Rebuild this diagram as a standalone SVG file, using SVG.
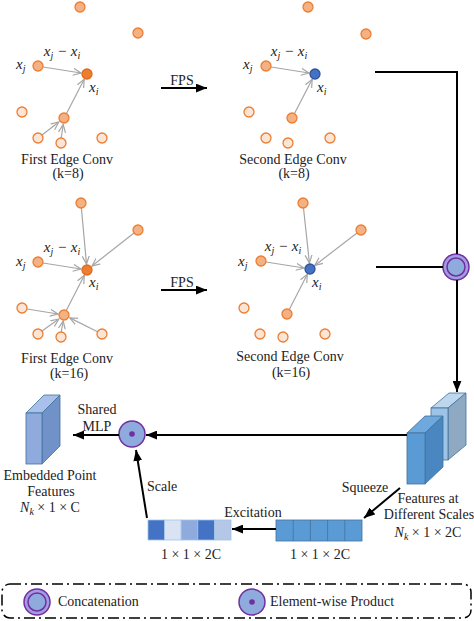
<svg xmlns="http://www.w3.org/2000/svg" width="474" height="621" viewBox="0 0 474 621" font-family="'Liberation Serif', 'Times New Roman', serif">
<style>
text{font-family:'Liberation Serif','Times New Roman',serif;font-size:14px;fill:#222}
.m{font-style:italic;font-size:15px}
.c{text-anchor:middle}
.pf{fill:#F4B183;stroke:#ED7D31;stroke-width:1.3}
.ph{fill:#FBE5D6;stroke:#ED7D31;stroke-width:1.3}
.pi{fill:#ED7D31;stroke:#E06A1B;stroke-width:1.3}
.pb{fill:#4472C4;stroke:#2F5597;stroke-width:1.3}
.g{stroke:#A6A6A6;stroke-width:1.2;fill:none;marker-end:url(#ga)}
.k{stroke:#000;stroke-width:2;fill:none}
.ka{stroke:#000;stroke-width:2;fill:none;marker-end:url(#ka)}
.cs{stroke:#41719C;stroke-width:0.8}
</style>
<defs>
<marker id="ga" markerUnits="userSpaceOnUse" markerWidth="10" markerHeight="10" refX="8" refY="4" orient="auto" viewBox="0 0 10 8"><path d="M0,0.5 L8,4 L0,7.5" fill="none" stroke="#A6A6A6" stroke-width="1.2"/></marker>
<marker id="ka" markerUnits="userSpaceOnUse" markerWidth="11" markerHeight="9" refX="10" refY="4" orient="auto" viewBox="0 0 10 8"><path d="M0,0 L10,4 L0,8 z" fill="#000"/></marker>
</defs>

<g id="edgeconv1-k8">
<line class="g" x1="43" y1="67" x2="81" y2="73"/>
<line class="g" x1="66.5" y1="113.5" x2="84.2" y2="79.3"/>
<line class="g" x1="42" y1="135" x2="58.8" y2="122"/>
<line class="g" x1="61.2" y1="138" x2="63.2" y2="124.5"/>
<circle class="pf" cx="80" cy="7" r="5"/>
<circle class="pf" cx="138" cy="33" r="5"/>
<circle class="pf" cx="38" cy="66" r="5"/>
<circle class="pi" cx="87" cy="74" r="5"/>
<circle class="ph" cx="22" cy="112" r="5"/>
<circle class="pf" cx="64" cy="118" r="5"/>
<circle class="ph" cx="38" cy="138" r="5"/>
<circle class="ph" cx="61" cy="143" r="5"/>
<circle class="ph" cx="102" cy="138" r="5"/>
<text class="m c" x="62" y="56">x<tspan dy="3" font-size="10">j</tspan><tspan dy="-3"> − x</tspan><tspan dy="3" font-size="10">i</tspan></text>
<text class="m" x="16" y="69">x<tspan dy="3" font-size="10">j</tspan></text>
<text class="m" x="89" y="92">x<tspan dy="3" font-size="10">i</tspan></text>
<text class="c" x="67" y="164">First Edge Conv</text>
<text class="c" x="68" y="178">(k=8)</text>
</g>

<g id="edgeconv2-k8">
<line class="g" x1="271" y1="67" x2="309" y2="73"/>
<line class="g" x1="294.5" y1="113.5" x2="312.2" y2="79.3"/>
<circle class="pf" cx="308" cy="7" r="5"/>
<circle class="pf" cx="366" cy="34" r="5"/>
<circle class="pf" cx="266" cy="66" r="5"/>
<circle class="pb" cx="315" cy="74" r="5"/>
<circle class="ph" cx="249" cy="112" r="5"/>
<circle class="pf" cx="292" cy="118" r="5"/>
<circle class="ph" cx="266" cy="138" r="5"/>
<circle class="ph" cx="288" cy="143" r="5"/>
<circle class="ph" cx="330" cy="138" r="5"/>
<text class="m c" x="289" y="56">x<tspan dy="3" font-size="10">j</tspan><tspan dy="-3"> − x</tspan><tspan dy="3" font-size="10">i</tspan></text>
<text class="m" x="243" y="69">x<tspan dy="3" font-size="10">j</tspan></text>
<text class="m" x="317" y="92">x<tspan dy="3" font-size="10">i</tspan></text>
<text class="c" x="293" y="164">Second Edge Conv</text>
<text class="c" x="294" y="178">(k=8)</text>
</g>

<g id="edgeconv1-k16">
<line class="g" x1="81.4" y1="208" x2="86.5" y2="264"/>
<line class="g" x1="134" y1="233" x2="92" y2="266"/>
<line class="g" x1="43" y1="263" x2="81" y2="269"/>
<line class="g" x1="66.3" y1="310.5" x2="84.3" y2="275.3"/>
<line class="g" x1="27" y1="309" x2="58" y2="314"/>
<line class="g" x1="42" y1="331" x2="58.8" y2="319"/>
<line class="g" x1="61.2" y1="332" x2="63.2" y2="321"/>
<line class="g" x1="97.5" y1="331.8" x2="69.8" y2="317.9"/>
<circle class="pf" cx="81" cy="203" r="5"/>
<circle class="pf" cx="138" cy="230" r="5"/>
<circle class="pf" cx="38" cy="262" r="5"/>
<circle class="pi" cx="87" cy="270" r="5"/>
<circle class="ph" cx="22" cy="308" r="5"/>
<circle class="pf" cx="64" cy="315" r="5"/>
<circle class="ph" cx="38" cy="334" r="5"/>
<circle class="ph" cx="61" cy="337" r="5"/>
<circle class="ph" cx="102" cy="334" r="5"/>
<text class="m c" x="62" y="252">x<tspan dy="3" font-size="10">j</tspan><tspan dy="-3"> − x</tspan><tspan dy="3" font-size="10">i</tspan></text>
<text class="m" x="16" y="266">x<tspan dy="3" font-size="10">j</tspan></text>
<text class="m" x="89" y="287">x<tspan dy="3" font-size="10">i</tspan></text>
<text class="c" x="67" y="363">First Edge Conv</text>
<text class="c" x="69" y="378">(k=16)</text>
</g>

<g id="edgeconv2-k16">
<line class="g" x1="303.5" y1="208" x2="309.4" y2="263"/>
<line class="g" x1="357" y1="233" x2="314.8" y2="265.4"/>
<line class="g" x1="266" y1="262" x2="304" y2="268"/>
<line class="g" x1="289.3" y1="309.5" x2="307.3" y2="274.3"/>
<circle class="pf" cx="303" cy="203" r="5"/>
<circle class="pf" cx="361" cy="230" r="5"/>
<circle class="pf" cx="261" cy="261" r="5"/>
<circle class="pb" cx="310" cy="269" r="5"/>
<circle class="ph" cx="244" cy="308" r="5"/>
<circle class="pf" cx="287" cy="314" r="5"/>
<circle class="ph" cx="260" cy="334" r="5"/>
<circle class="ph" cx="283" cy="337" r="5"/>
<circle class="ph" cx="325" cy="334" r="5"/>
<text class="m c" x="283" y="251">x<tspan dy="3" font-size="10">j</tspan><tspan dy="-3"> − x</tspan><tspan dy="3" font-size="10">i</tspan></text>
<text class="m" x="238" y="266">x<tspan dy="3" font-size="10">j</tspan></text>
<text class="m" x="312" y="287">x<tspan dy="3" font-size="10">i</tspan></text>
<text class="c" x="290" y="361">Second Edge Conv</text>
<text class="c" x="291" y="377">(k=16)</text>
</g>

<g id="concat-node">
<circle cx="456" cy="267" r="13" fill="#A39CE3" stroke="#7030A0" stroke-width="1.5"/>
<circle cx="456" cy="267" r="9" fill="#8FAADC" stroke="#7030A0" stroke-width="1.5"/>
</g>

<g id="multiscale-features">
<polygon class="cs" points="431,408 449,393 466,393 448,408" fill="#BDD7EE"/>
<polygon class="cs" points="448,408 466,393 466,445 448,460" fill="#8EA9C1"/>
<rect class="cs" x="431" y="408" width="17" height="52" fill="#9DC3E6"/>
<polygon class="cs" points="407,433 425,416 443,416 425,433" fill="#6FA8DC"/>
<polygon class="cs" points="425,433 443,416 443,467 425,484" fill="#4A86C0"/>
<rect class="cs" x="407" y="433" width="18" height="51" fill="#5B9BD5"/>
<text class="c" x="428" y="503">Features at</text>
<text class="c" x="429" y="519">Different Scales</text>
<text class="c" x="428" y="537"><tspan font-style="italic">N</tspan><tspan dy="3" font-size="10" font-style="italic">k</tspan><tspan dy="-3"> × 1 × 2C</tspan></text>
</g>

<g id="product-node">
<circle cx="132" cy="434" r="13" fill="#8FAADC" stroke="#7030A0" stroke-width="1.5"/>
<circle cx="132" cy="434" r="2.8" fill="#7030A0"/>
</g>

<g id="embedded-features">
<polygon class="cs" points="26,413 44,395 60,395 42,413" fill="#A9C1EA"/>
<polygon class="cs" points="42,413 60,395 60,446 42,464" fill="#7191C9"/>
<rect class="cs" x="26" y="413" width="16" height="51" fill="#8FAADC"/>
<text class="c" x="50" y="480">Embedded Point</text>
<text class="c" x="51" y="496">Features</text>
<text class="c" x="50" y="512"><tspan font-style="italic">N</tspan><tspan dy="3" font-size="10" font-style="italic">k</tspan><tspan dy="-3"> × 1 × C</tspan></text>
</g>

<g id="squeezed-vector">
<rect x="276" y="520" width="86" height="21" fill="#5B9BD5" stroke="#41719C" stroke-width="0.8"/>
<path d="M293.2,520 V541 M310.4,520 V541 M327.6,520 V541 M344.8,520 V541" stroke="#41719C" stroke-width="0.8"/>
<text class="c" x="320" y="559">1 × 1 × 2C</text>
</g>

<g id="excited-vector">
<rect x="148" y="520" width="16.6" height="20" fill="#4472C4" stroke="#9DC3E6" stroke-width="0.8"/>
<rect x="164.6" y="520" width="16.6" height="20" fill="#DAE3F3" stroke="#9DC3E6" stroke-width="0.8"/>
<rect x="181.2" y="520" width="16.6" height="20" fill="#8FAADC" stroke="#9DC3E6" stroke-width="0.8"/>
<rect x="197.8" y="520" width="16.6" height="20" fill="#4472C4" stroke="#9DC3E6" stroke-width="0.8"/>
<rect x="214.4" y="520" width="16.6" height="20" fill="#B4C7E7" stroke="#9DC3E6" stroke-width="0.8"/>
<text class="c" x="191" y="559">1 × 1 × 2C</text>
</g>

<g id="connectors">
<line class="ka" x1="161" y1="88" x2="207" y2="88"/>
<text class="c" x="182" y="85">FPS</text>
<line class="ka" x1="161" y1="290" x2="207" y2="290"/>
<text class="c" x="182" y="287">FPS</text>
<polyline class="k" points="375,72 457,72 457,254"/>
<line class="k" x1="376" y1="267" x2="443" y2="267"/>
<line class="ka" x1="457" y1="280" x2="457" y2="392"/>
<line class="ka" x1="407" y1="435" x2="146" y2="435"/>
<line class="ka" x1="119" y1="435" x2="73" y2="435"/>
<text class="c" x="97" y="414">Shared</text>
<text class="c" x="97" y="431">MLP</text>
<line class="ka" x1="400" y1="488" x2="364" y2="518"/>
<text class="c" x="365" y="492">Squeeze</text>
<line class="ka" x1="276" y1="529" x2="232" y2="529"/>
<text class="c" x="253" y="517">Excitation</text>
<line class="ka" x1="147" y1="518" x2="136" y2="450"/>
<text x="147" y="491">Scale</text>
</g>

<g id="legend">
<rect x="2" y="584" width="469" height="34" rx="8" fill="none" stroke="#000" stroke-width="1.5" stroke-dasharray="11,4,2,4"/>
<circle cx="37" cy="602" r="13" fill="#A39CE3" stroke="#7030A0" stroke-width="1.5"/>
<circle cx="37" cy="602" r="9" fill="#8FAADC" stroke="#7030A0" stroke-width="1.5"/>
<text x="58" y="606">Concatenation</text>
<circle cx="252" cy="602" r="13" fill="#8FAADC" stroke="#7030A0" stroke-width="1.5"/>
<circle cx="252" cy="602" r="2.8" fill="#7030A0"/>
<text x="270" y="606">Element-wise Product</text>
</g>
</svg>
